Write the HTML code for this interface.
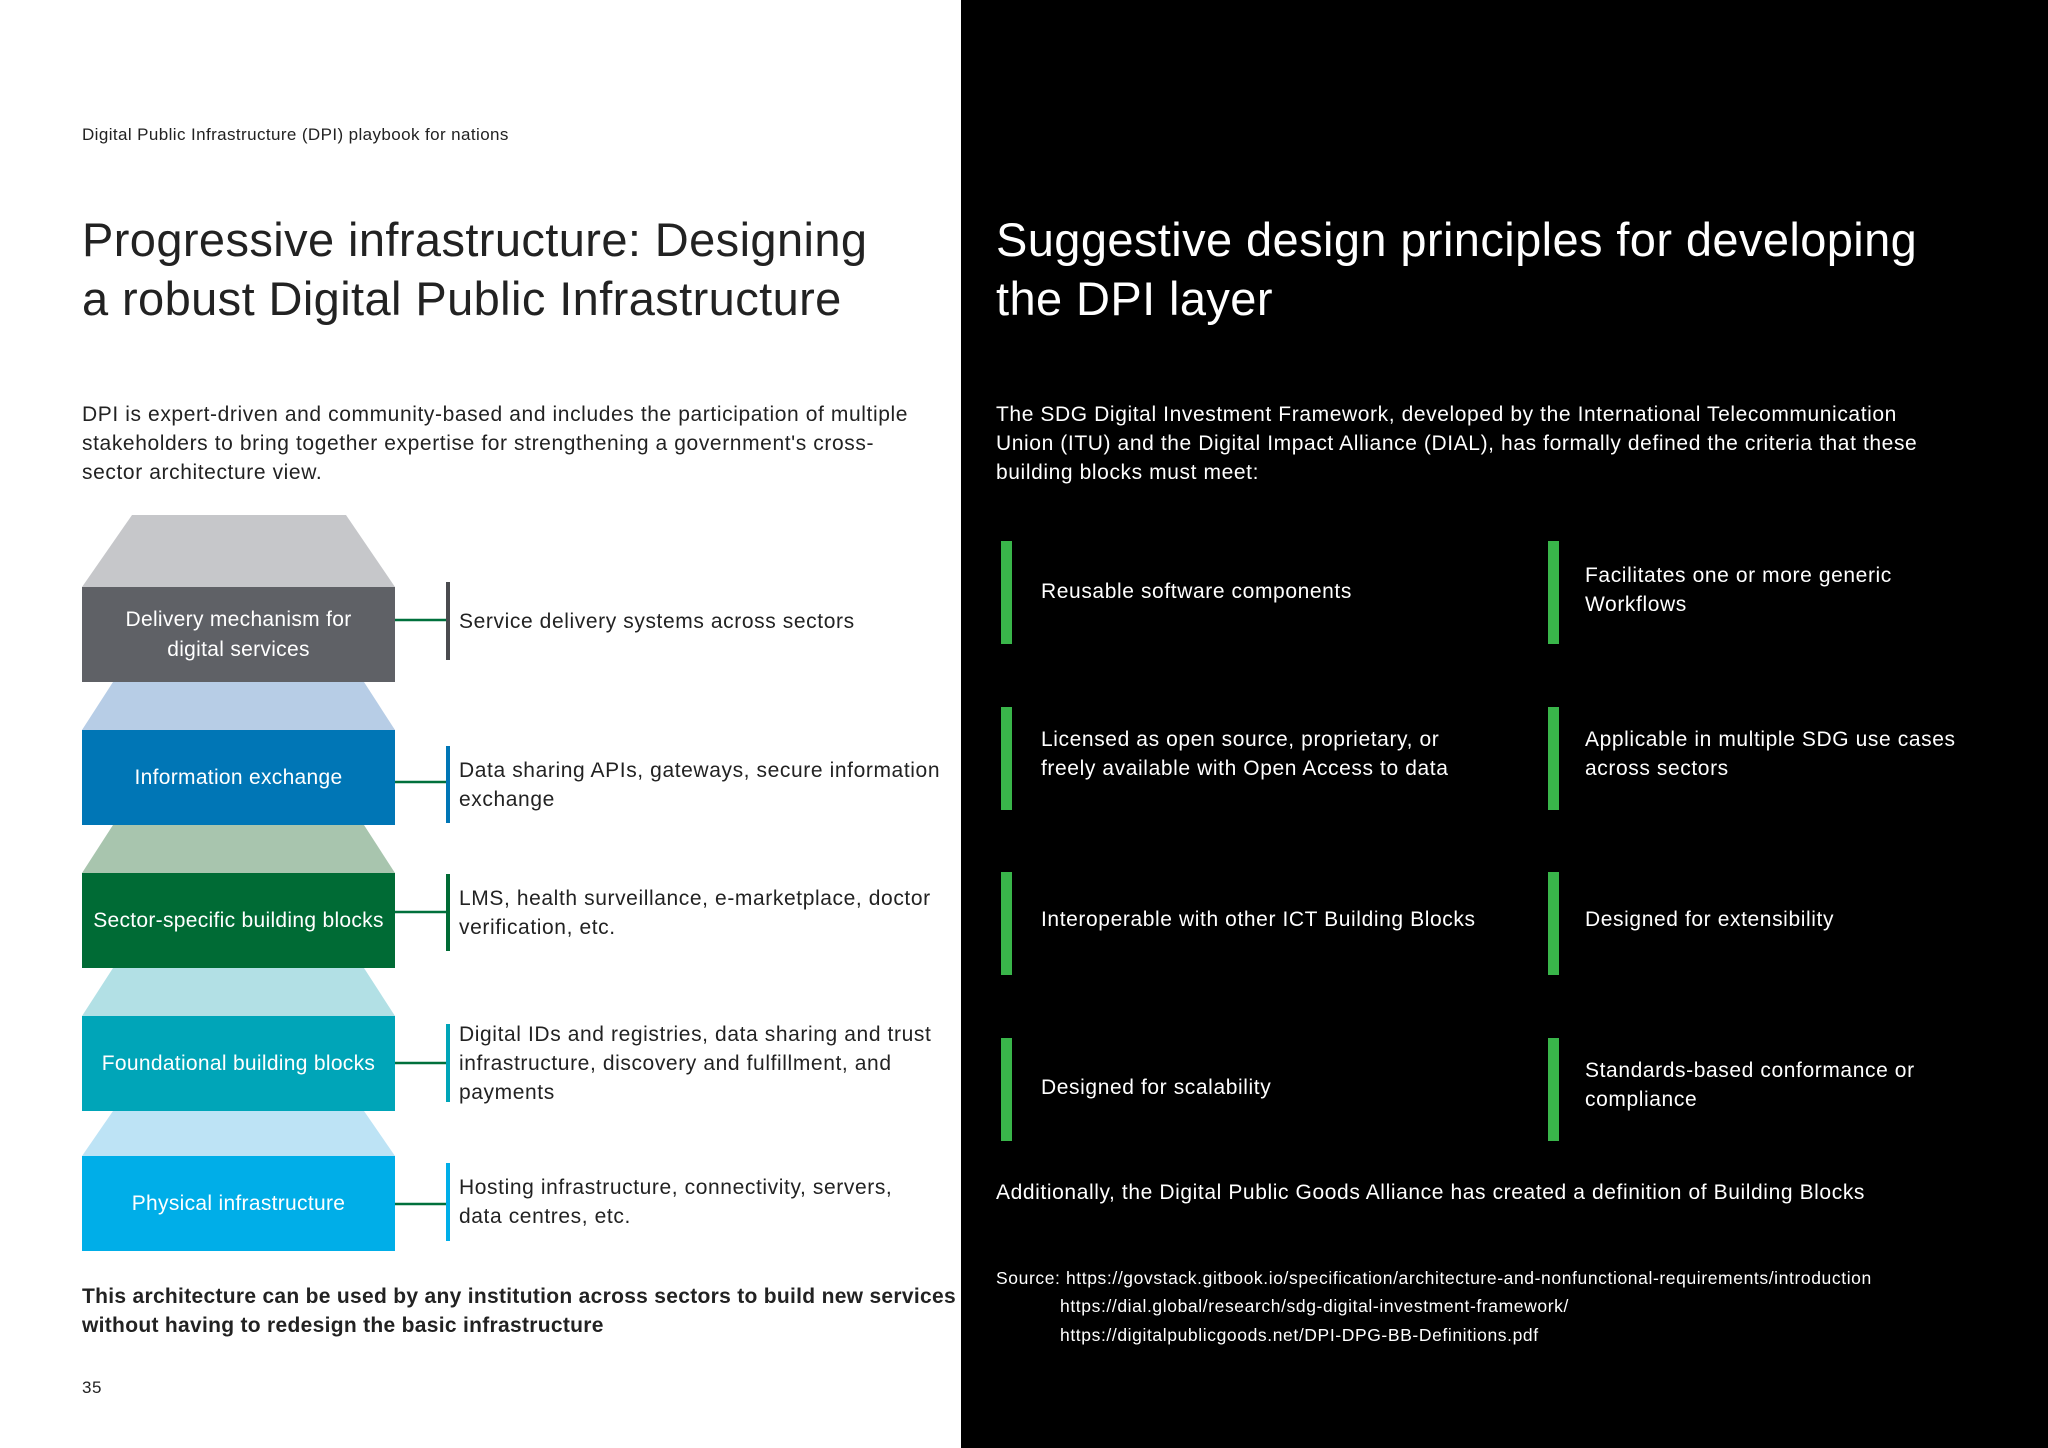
<!DOCTYPE html>
<html><head><meta charset="utf-8">
<style>
*{margin:0;padding:0;box-sizing:border-box}
body{width:2048px;height:1448px;position:relative;background:#fff;font-family:"Liberation Sans",sans-serif;overflow:hidden;letter-spacing:0.6px}
.a{position:absolute;white-space:nowrap}
#dark{position:absolute;left:961px;top:0;width:1087px;height:1448px;background:#000}
.h{font-size:47px;line-height:59px;font-weight:normal;letter-spacing:0.4px}
.p{font-size:21px;line-height:29px}
.lab{position:absolute;left:82px;width:313px;display:flex;align-items:center;justify-content:center;text-align:center;color:#fff;font-size:21px;line-height:30px;letter-spacing:0.3px}
.desc{position:absolute;left:459px;display:flex;align-items:center;font-size:21px;line-height:29px;color:#222;white-space:nowrap}
.it{position:absolute;display:flex;align-items:center;color:#fff;font-size:21px;line-height:29px;white-space:nowrap}
.gb{position:absolute;width:11px;background:#39b54a}
</style></head><body>
<div class="a" style="left:82px;top:125px;font-size:17px;color:#222;letter-spacing:0.4px">Digital Public Infrastructure (DPI) playbook for nations</div>
<div class="a h" style="left:82px;top:210px;color:#222">Progressive infrastructure: Designing<br>a robust Digital Public Infrastructure</div>
<div class="a p" style="left:82px;top:400px;color:#222">DPI is expert-driven and community-based and includes the participation of multiple<br>stakeholders to bring together expertise for strengthening a government's cross-<br>sector architecture view.</div>

<svg class="a" style="left:0;top:0" width="961" height="1448">
<polygon points="132,515 346,515 395,587 82,587" fill="#c6c7ca"/>
<rect x="82" y="587" width="313" height="95" fill="#5f6166"/>
<polygon points="113,682 364,682 395,730 82,730" fill="#b7cde6"/>
<rect x="82" y="730" width="313" height="95" fill="#0076b6"/>
<polygon points="113,825 364,825 395,873 82,873" fill="#a8c5ae"/>
<rect x="82" y="873" width="313" height="95" fill="#006b35"/>
<polygon points="113,968 364,968 395,1016 82,1016" fill="#b2e0e5"/>
<rect x="82" y="1016" width="313" height="95" fill="#00a5b8"/>
<polygon points="113,1111 364,1111 395,1156 82,1156" fill="#bde3f5"/>
<rect x="82" y="1156" width="313" height="95" fill="#00aee8"/>
<g stroke="#00703c" stroke-width="2.5">
<line x1="395" y1="620" x2="447" y2="620"/>
<line x1="395" y1="782" x2="447" y2="782"/>
<line x1="395" y1="912" x2="447" y2="912"/>
<line x1="395" y1="1063" x2="447" y2="1063"/>
<line x1="395" y1="1204" x2="447" y2="1204"/>
</g>
<rect x="446" y="582" width="4" height="78" fill="#4a4b4f"/>
<rect x="446" y="746" width="4" height="77" fill="#0076b6"/>
<rect x="446" y="874" width="4" height="77" fill="#006b35"/>
<rect x="446" y="1024" width="4" height="78" fill="#00a5b8"/>
<rect x="446" y="1163" width="4" height="78" fill="#00aee8"/>
</svg>
<div class="lab" style="top:587px;height:95px">Delivery mechanism for<br>digital services</div>
<div class="lab" style="top:730px;height:95px">Information exchange</div>
<div class="lab" style="top:873px;height:95px">Sector-specific building blocks</div>
<div class="lab" style="top:1016px;height:95px">Foundational building blocks</div>
<div class="lab" style="top:1156px;height:95px">Physical infrastructure</div>
<div class="desc" style="top:582px;height:78px">Service delivery systems across sectors</div>
<div class="desc" style="top:746px;height:77px">Data sharing APIs, gateways, secure information<br>exchange</div>
<div class="desc" style="top:874px;height:77px">LMS, health surveillance, e-marketplace, doctor<br>verification, etc.</div>
<div class="desc" style="top:1018px;height:90px">Digital IDs and registries, data sharing and trust<br>infrastructure, discovery and fulfillment, and<br>payments</div>
<div class="desc" style="top:1163px;height:78px">Hosting infrastructure, connectivity, servers,<br>data centres, etc.</div>
<div class="a" style="left:82px;top:1282px;font-size:21px;line-height:29px;font-weight:bold;color:#222;letter-spacing:0.3px">This architecture can be used by any institution across sectors to build new services<br>without having to redesign the basic infrastructure</div>
<div class="a" style="left:82px;top:1378px;font-size:17px;color:#222">35</div>

<div id="dark"></div>
<div class="a h" style="left:996px;top:210px;color:#fff">Suggestive design principles for developing<br>the DPI layer</div>
<div class="a p" style="left:996px;top:400px;color:#fff">The SDG Digital Investment Framework, developed by the International Telecommunication<br>Union (ITU) and the Digital Impact Alliance (DIAL), has formally defined the criteria that these<br>building blocks must meet:</div>

<div class="gb" style="left:1001px;top:541px;height:103px"></div>
<div class="gb" style="left:1548px;top:541px;height:103px"></div>
<div class="gb" style="left:1001px;top:707px;height:103px"></div>
<div class="gb" style="left:1548px;top:707px;height:103px"></div>
<div class="gb" style="left:1001px;top:872px;height:103px"></div>
<div class="gb" style="left:1548px;top:872px;height:103px"></div>
<div class="gb" style="left:1001px;top:1038px;height:103px"></div>
<div class="gb" style="left:1548px;top:1038px;height:103px"></div>

<div class="it" style="left:1041px;top:541px;height:100px">Reusable software components</div>
<div class="it" style="left:1585px;top:541px;height:98px">Facilitates one or more generic<br>Workflows</div>
<div class="it" style="left:1041px;top:707px;height:94px">Licensed as open source, proprietary, or<br>freely available with Open Access to data</div>
<div class="it" style="left:1585px;top:707px;height:94px">Applicable in multiple SDG use cases<br>across sectors</div>
<div class="it" style="left:1041px;top:872px;height:94px">Interoperable with other ICT Building Blocks</div>
<div class="it" style="left:1585px;top:872px;height:94px">Designed for extensibility</div>
<div class="it" style="left:1041px;top:1038px;height:98px">Designed for scalability</div>
<div class="it" style="left:1585px;top:1038px;height:94px">Standards-based conformance or<br>compliance</div>

<div class="a" style="left:996px;top:1178px;font-size:21px;line-height:29px;color:#fff">Additionally, the Digital Public Goods Alliance has created a definition of Building Blocks</div>
<div class="a" style="left:996px;top:1264px;font-size:17.5px;line-height:28.5px;color:#fff">Source: https://govstack.gitbook.io/specification/architecture-and-nonfunctional-requirements/introduction</div>
<div class="a" style="left:1060px;top:1292px;font-size:17.5px;line-height:28.5px;color:#fff">https://dial.global/research/sdg-digital-investment-framework/<br>https://digitalpublicgoods.net/DPI-DPG-BB-Definitions.pdf</div>
</body></html>
